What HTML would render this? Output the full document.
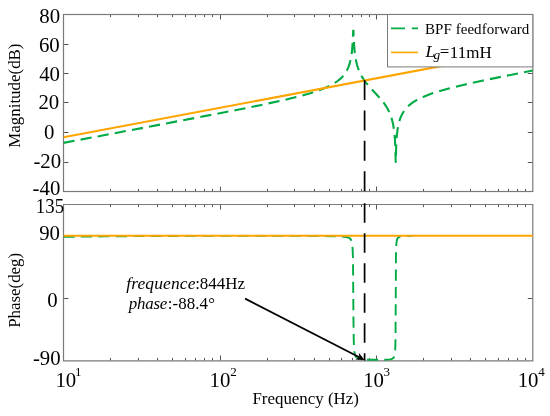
<!DOCTYPE html>
<html><head><meta charset="utf-8"><style>
html,body{margin:0;padding:0;background:#fff;}
body{width:550px;height:416px;overflow:hidden;}
svg{display:block;}
text{font-family:"Liberation Serif","Times New Roman",serif;fill:#000;}
</style></head><body>
<svg width="550" height="416" viewBox="0 0 550 416">
<rect width="550" height="416" fill="#fff"/>
<defs>
<clipPath id="cm"><rect x="63.5" y="14.5" width="469.29999999999995" height="177.0"/></clipPath>
<clipPath id="cp"><rect x="63.5" y="204.5" width="469.29999999999995" height="157.0"/></clipPath>
</defs>
<g fill="none" stroke="#555" stroke-width="1">
<path d="M110.5,14.5v2.6M110.5,191.5v-2.6M138.5,14.5v2.6M138.5,191.5v-2.6M157.5,14.5v2.6M157.5,191.5v-2.6M172.5,14.5v2.6M172.5,191.5v-2.6M185.5,14.5v2.6M185.5,191.5v-2.6M195.5,14.5v2.6M195.5,191.5v-2.6M204.5,14.5v2.6M204.5,191.5v-2.6M212.5,14.5v2.6M212.5,191.5v-2.6M220.5,14.5v5M220.5,191.5v-5M267.5,14.5v2.6M267.5,191.5v-2.6M294.5,14.5v2.6M294.5,191.5v-2.6M314.5,14.5v2.6M314.5,191.5v-2.6M329.5,14.5v2.6M329.5,191.5v-2.6M341.5,14.5v2.6M341.5,191.5v-2.6M352.5,14.5v2.6M352.5,191.5v-2.6M361.5,14.5v2.6M361.5,191.5v-2.6M369.5,14.5v2.6M369.5,191.5v-2.6M376.5,14.5v5M376.5,191.5v-5M423.5,14.5v2.6M423.5,191.5v-2.6M451.5,14.5v2.6M451.5,191.5v-2.6M470.5,14.5v2.6M470.5,191.5v-2.6M485.5,14.5v2.6M485.5,191.5v-2.6M498.5,14.5v2.6M498.5,191.5v-2.6M508.5,14.5v2.6M508.5,191.5v-2.6M517.5,14.5v2.6M517.5,191.5v-2.6M525.5,14.5v2.6M525.5,191.5v-2.6M110.5,204.5v2.6M110.5,360.5v-2.6M138.5,204.5v2.6M138.5,360.5v-2.6M157.5,204.5v2.6M157.5,360.5v-2.6M172.5,204.5v2.6M172.5,360.5v-2.6M185.5,204.5v2.6M185.5,360.5v-2.6M195.5,204.5v2.6M195.5,360.5v-2.6M204.5,204.5v2.6M204.5,360.5v-2.6M212.5,204.5v2.6M212.5,360.5v-2.6M220.5,204.5v5M220.5,360.5v-5M267.5,204.5v2.6M267.5,360.5v-2.6M294.5,204.5v2.6M294.5,360.5v-2.6M314.5,204.5v2.6M314.5,360.5v-2.6M329.5,204.5v2.6M329.5,360.5v-2.6M341.5,204.5v2.6M341.5,360.5v-2.6M352.5,204.5v2.6M352.5,360.5v-2.6M361.5,204.5v2.6M361.5,360.5v-2.6M369.5,204.5v2.6M369.5,360.5v-2.6M376.5,204.5v5M376.5,360.5v-5M423.5,204.5v2.6M423.5,360.5v-2.6M451.5,204.5v2.6M451.5,360.5v-2.6M470.5,204.5v2.6M470.5,360.5v-2.6M485.5,204.5v2.6M485.5,360.5v-2.6M498.5,204.5v2.6M498.5,360.5v-2.6M508.5,204.5v2.6M508.5,360.5v-2.6M517.5,204.5v2.6M517.5,360.5v-2.6M525.5,204.5v2.6M525.5,360.5v-2.6M63.5,44.5h5M532.8,44.5h-5M63.5,73.5h5M532.8,73.5h-5M63.5,102.5h5M532.8,102.5h-5M63.5,132.5h5M532.8,132.5h-5M63.5,162.5h5M532.8,162.5h-5M63.5,235.5h5M532.8,235.5h-5M63.5,298.5h5M532.8,298.5h-5"/>
</g>
<g fill="none" stroke="#7a7a7a" stroke-width="1.2">
<rect x="63.5" y="14.5" width="469.29999999999995" height="177.0"/>
<path d="M63.5,204.5H532.8V360.9H63.5Z"/>
</g>
<g clip-path="url(#cm)" fill="none">
<path d="M63.50,142.88 L201.16,116.83 L235.21,110.23 L260.25,105.18 L281.38,100.62 L290.15,98.58 L297.98,96.63 L304.94,94.76 L311.20,92.93 L316.76,91.12 L321.77,89.30 L326.54,87.32 L330.69,85.33 L334.37,83.24 L337.66,81.00 L340.47,78.67 L342.90,76.20 L345.01,73.50 L346.81,70.57 L348.22,67.61 L349.47,64.16 L350.49,60.38 L351.27,56.37 L351.90,51.87 L352.37,47.01 L352.76,40.97 L353.15,31.78 L353.23,30.73 L353.39,30.73 L354.17,46.00 L354.64,51.41 L355.26,56.36 L356.05,60.78 L356.99,64.71 L358.16,68.47 L359.49,71.84 L360.82,74.61 L362.39,77.39 L364.11,80.04 L366.14,82.80 L368.02,85.11 L370.13,87.53 L377.49,95.42 L380.15,98.38 L382.66,101.39 L384.85,104.34 L386.88,107.49 L388.60,110.64 L390.09,113.94 L391.34,117.40 L392.36,120.96 L393.22,124.89 L393.93,129.21 L394.47,133.91 L394.87,138.68 L395.18,144.27 L395.73,162.65 L396.20,146.39 L396.51,140.20 L396.82,136.01 L397.29,131.55 L397.84,127.80 L398.54,124.21 L399.33,121.18 L400.34,118.12 L401.52,115.35 L402.93,112.72 L404.49,110.36 L406.29,108.14 L408.33,106.06 L410.60,104.11 L413.18,102.23 L416.15,100.39 L419.44,98.63 L423.12,96.91 L427.27,95.21 L431.81,93.55 L436.89,91.87 L442.53,90.19 L448.79,88.47 L455.60,86.73 L463.11,84.93 L480.88,80.99 L503.34,76.36 L533.00,70.54" stroke="#00aa44" stroke-width="2.1" stroke-dasharray="11.2 6.2"/>
<path d="M63.50,137.23 L533.00,48.73" stroke="#ffa500" stroke-width="2.1"/>
</g>
<g clip-path="url(#cp)" fill="none">
<path d="M63.50,236.88 L104.43,236.35 L155.30,236.02 L225.97,235.84 L299.62,235.86 L323.88,235.98 L337.11,236.23 L341.26,236.43 L344.39,236.71 L346.66,237.07 L348.38,237.58 L349.39,238.08 L350.26,238.77 L350.88,239.58 L351.43,240.72 L351.82,242.04 L352.13,243.70 L352.37,245.63 L352.60,248.72 L352.92,257.37 L353.07,266.83 L353.46,319.49 L353.70,337.75 L353.86,343.45 L354.09,348.22 L354.40,351.59 L354.87,354.20 L355.50,355.95 L355.89,356.62 L356.44,357.28 L357.06,357.79 L357.77,358.20 L358.63,358.55 L359.65,358.84 L362.39,359.29 L366.22,359.59 L371.70,359.77 L378.51,359.82 L383.20,359.77 L386.80,359.63 L389.39,359.40 L391.19,359.08 L392.44,358.63 L393.38,357.99 L393.77,357.53 L394.08,357.01 L394.55,355.72 L394.87,354.09 L395.10,351.83 L395.41,344.14 L395.57,332.22 L395.96,256.54 L396.20,246.75 L396.35,244.03 L396.59,241.74 L396.98,239.81 L397.53,238.50 L397.92,237.97 L398.39,237.54 L398.94,237.19 L399.56,236.92 L401.28,236.49 L403.71,236.21 L407.31,236.01 L412.55,235.88" stroke="#00aa44" stroke-width="1.9" stroke-dasharray="11.2 6.2"/>
<path d="M63.50,235.70 L533.00,235.70" stroke="#ffa500" stroke-width="2.1"/>
</g>
<g fill="none" stroke="#000" stroke-width="1.7">
<path d="M364.6,80V191.5" stroke-dasharray="20 10.4"/>
<path d="M364.6,203.3V360.5" stroke-dasharray="19.5 10.5"/>
</g>
<rect x="387.5" y="14.5" width="145.29999999999995" height="52.400000000000006" fill="#fff" stroke="#7a7a7a" stroke-width="1"/><path d="M391,28.4H405M411.8,28.4H418" stroke="#00aa44" stroke-width="1.6" fill="none"/><path d="M391,52.4H418" stroke="#ffa500" stroke-width="1.6" fill="none"/><text x="425.08" y="34.00" font-size="15" letter-spacing="0.040">BPF feedforward</text><text x="425.51" y="57.40" font-size="17.4" font-style="italic">L</text><text x="433.60" y="59.20" font-size="13.3" font-style="italic">g</text><text x="439.65" y="57.40" font-size="17">=</text><text x="449.70" y="57.50" font-size="17" letter-spacing="0.084">11mH</text>
<text x="39.31" y="23.20" font-size="20.8">80</text><text x="38.93" y="51.60" font-size="20.8">60</text><text x="39.18" y="80.70" font-size="20.8">40</text><text x="38.48" y="109.40" font-size="20.8">20</text><text x="44.01" y="138.60" font-size="20.8">0</text><text x="33.41" y="167.80" font-size="20.8">-20</text><text x="32.61" y="195.40" font-size="20.8">-40</text><text x="39.13" y="239.60" font-size="20.8">90</text><text x="47.21" y="306.60" font-size="20.8">0</text><text x="32.91" y="365.40" font-size="20.8">-90</text><text x="55.47" y="387.10" font-size="20.8">10</text><text x="75.06" y="376.40" font-size="13">1</text><text x="209.57" y="387.10" font-size="20.8">10</text><text x="230.13" y="376.40" font-size="13">2</text><text x="363.17" y="387.10" font-size="20.8">10</text><text x="383.48" y="376.40" font-size="13">3</text><text x="517.67" y="387.10" font-size="20.8">10</text><text x="538.34" y="376.40" font-size="13">4</text><text x="35.85" y="213.30" font-size="20.8" textLength="28.21" lengthAdjust="spacingAndGlyphs">135</text><text x="252.43" y="404.40" font-size="16.9">Frequency (Hz)</text><text transform="translate(20.2,147.67) rotate(-90)" font-size="16.9">Magnitude(dB)</text><text transform="translate(20.2,327.87) rotate(-90)" font-size="16.9">Phase(deg)</text>
<text x="126.19" y="288.50" font-size="17.5" letter-spacing="0.117" font-style="italic">frequence</text><text x="195.15" y="288.50" font-size="16.9" letter-spacing="0.014">:844Hz</text><text x="128.78" y="308.70" font-size="16.9" letter-spacing="-0.213" font-style="italic">phase</text><text x="167.65" y="308.70" font-size="16.9" letter-spacing="0.103">:-88.4°</text><path d="M245.1,298.6L359.31,357.28" stroke="#000" stroke-width="1.8" fill="none"/><path d="M364.6,360.0L358.78,352.74L359.31,357.28L355.30,359.50Z" fill="#000"/>
</svg>
</body></html>
